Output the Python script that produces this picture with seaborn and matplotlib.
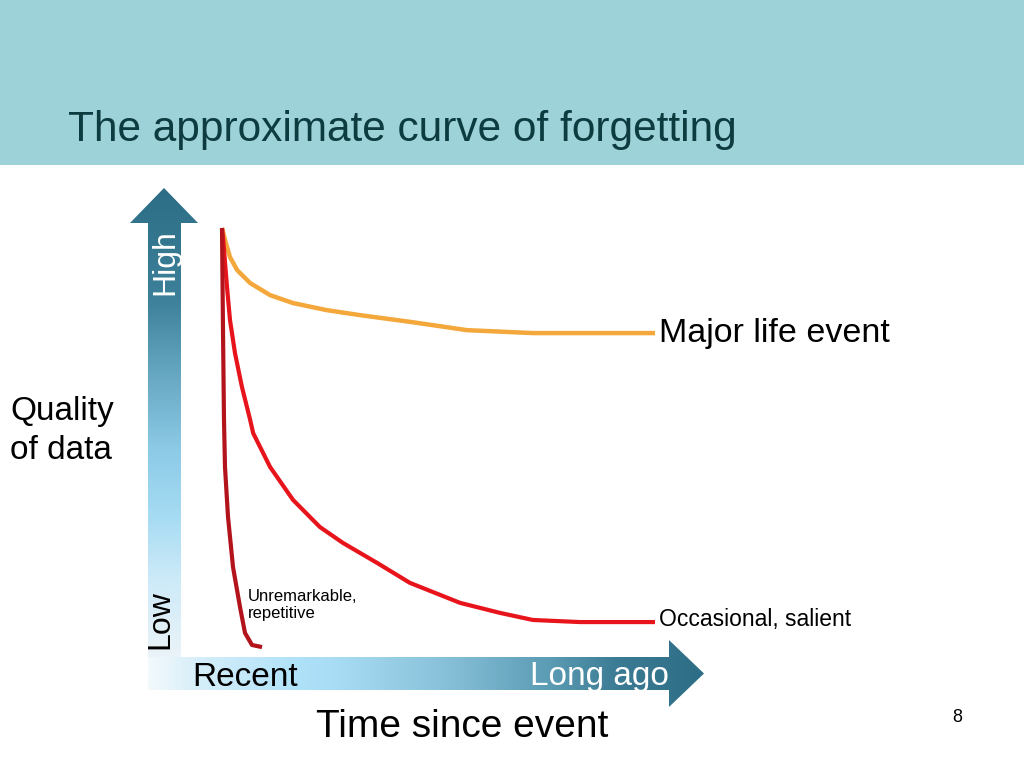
import numpy as np
import pandas as pd
import matplotlib
matplotlib.use("Agg")
import matplotlib.pyplot as plt
import seaborn as sns
from matplotlib.patches import Polygon, Rectangle
from matplotlib.colors import LinearSegmentedColormap

# forgetting curves: time since event (0..100) vs quality of data (0..100)
major_time = [0, 0.7, 1.85, 3.5, 6.5, 11.1, 16.4, 24.2, 31.9, 43.4, 56.6, 71.8, 87.3, 100]
major_quality = [100, 97.1, 93.0, 89.9, 86.8, 83.9, 82.0, 80.3, 79.1, 77.5, 75.5, 74.8, 74.8, 74.8]

salient_time = [0, 0.23, 1.15, 1.85, 3.0, 4.6, 6.5, 7.2, 11.1, 16.4, 22.6, 27.9,
                35.8, 43.4, 55.0, 64.2, 71.8, 82.7, 100]
salient_quality = [100, 97.8, 85.9, 77.9, 70.0, 61.9, 54.0, 50.8, 42.7, 34.8, 28.3, 24.5,
                   19.7, 14.9, 10.1, 7.7, 6.0, 5.5, 5.5]

routine_time = [0, 0.23, 0.46, 0.69, 1.39, 2.54, 4.16, 5.31, 6.93, 9.24]
routine_quality = [100, 75.5, 54.0, 42.7, 30.7, 18.7, 9.1, 2.9, 0, -0.5]

series_names = ["Major life event", "Occasional, salient", "Unremarkable,\nrepetitive"]
series_colors = ["#F4A73A", "#E8141B", "#B3141C"]
series_widths = [3.2, 3.0, 3.0]

frames = []
for name, xs, ys in zip(series_names,
                        [major_time, salient_time, routine_time],
                        [major_quality, salient_quality, routine_quality]):
    frames.append(pd.DataFrame({"event": name, "time": xs, "quality": ys}))
df = pd.concat(frames, ignore_index=True)

sns.set_theme(style="white")
plt.rcParams["font.family"] = ["Liberation Sans", "DejaVu Sans"]

W, H = 1024, 768
fig = plt.figure(figsize=(W / 100, H / 100), dpi=100)

# background layer in pixel coordinates
bg = fig.add_axes([0, 0, 1, 1], zorder=0)
bg.set_xlim(0, W)
bg.set_ylim(H, 0)
bg.axis("off")

bg.add_patch(Rectangle((0, 0), W, 165, color="#9DD3D8", lw=0))
bg.text(68, 130, "The approximate curve of forgetting", fontsize=30.5,
        color="#0C3B40", va="center", ha="left")

# vertical arrow with gradient
v_cmap = LinearSegmentedColormap.from_list("v", [
    (0.0, "#2D6E86"), (0.22, "#3D8099"), (0.38, "#69A9C4"), (0.52, "#8CCAE6"),
    (0.65, "#A5DBF3"), (0.78, "#CDEAF8"), (0.91, "#E6F2F8"), (1.0, "#F5F9FC")])
v_poly = Polygon([(164, 188), (198, 223), (181, 223), (181, 690), (148, 690),
                  (148, 223), (130, 223)], closed=True, fc="none", ec="none")
bg.add_patch(v_poly)
grad_v = np.linspace(0, 1, 256).reshape(-1, 1)
im_v = bg.imshow(grad_v, extent=(130, 198, 690, 188), origin="upper",
                 aspect="auto", cmap=v_cmap, zorder=1)
im_v.set_clip_path(v_poly)

# horizontal arrow with gradient
h_cmap = LinearSegmentedColormap.from_list("h", [
    (0.0, "#F3F9FC"), (0.09, "#D6EEF9"), (0.27, "#AFE2F9"), (0.34, "#A8DCF4"),
    (0.54, "#86C0D8"), (0.72, "#5C9CB5"), (0.85, "#3A7A93"), (1.0, "#2D6E86")])
h_poly = Polygon([(148, 657), (669, 657), (669, 640), (704, 673.5), (669, 707),
                  (669, 690), (148, 690)], closed=True, fc="none", ec="none")
bg.add_patch(h_poly)
grad_h = np.linspace(0, 1, 256).reshape(1, -1)
im_h = bg.imshow(grad_h, extent=(148, 704, 707, 640), origin="upper",
                 aspect="auto", cmap=h_cmap, zorder=1)
im_h.set_clip_path(h_poly)

bg.set_xlim(0, W)
bg.set_ylim(H, 0)

bg.text(165, 262, "High", fontsize=23, color="white", rotation=90,
        ha="center", va="center", zorder=2)
bg.text(160, 620, "Low", fontsize=23, color="black", rotation=90,
        ha="center", va="center", zorder=2)
bg.text(192, 678, "Recent", fontsize=24, color="black",
        ha="left", va="center", zorder=2)
bg.text(669, 676, "Long ago", fontsize=24, color="white",
        ha="right", va="center", zorder=2)
bg.text(462, 727, "Time since event", fontsize=28, color="black",
        ha="center", va="center", zorder=2)
bg.text(10, 431, "Quality\nof data", fontsize=24, color="black",
        ha="left", va="center", linespacing=1.3, zorder=2)
bg.text(957, 717, "8", fontsize=13, color="black",
        ha="center", va="center", zorder=2)

# curve layer
left, right, top, bottom = 222, 655, 228, 645
ax = fig.add_axes([left / W, 1 - bottom / H, (right - left) / W, (bottom - top) / H],
                  zorder=2)
ax.patch.set_alpha(0)
sns.lineplot(data=df, x="time", y="quality", hue="event", estimator=None,
             sort=False, palette=dict(zip(series_names, series_colors)),
             linewidth=3.0, legend=False, ax=ax)
for line, lw in zip(ax.get_lines(), series_widths):
    line.set_linewidth(lw)
    line.set_solid_capstyle("butt")
    line.set_solid_joinstyle("round")
    line.set_clip_on(False)
ax.set_xlim(0, 100)
ax.set_ylim(0, 100)
ax.axis("off")

ax.text(101, 74.8, series_names[0], fontsize=24.5, color="black",
        ha="left", va="center", clip_on=False)
ax.text(101, 6.2, series_names[1], fontsize=16.5, color="black",
        ha="left", va="center", clip_on=False)
ax.text(6, 9.5, series_names[2], fontsize=12, color="black",
        ha="left", va="center", linespacing=1.15, clip_on=False)

fig.savefig("out.png", dpi=100)
